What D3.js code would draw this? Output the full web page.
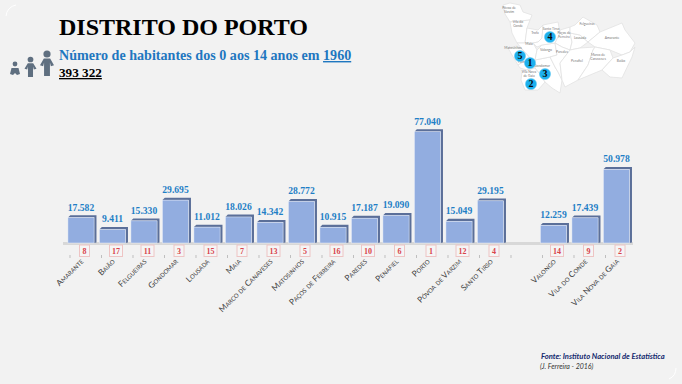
<!DOCTYPE html>
<html>
<head>
<meta charset="utf-8">
<title>Distrito do Porto 1960</title>
<script src="https://cdn.jsdelivr.net/npm/d3@7"></script>
<style>
html, body { margin: 0; padding: 0; background: #f2f2f2; overflow: hidden; }
svg { display: block; }
.serif { font-family: "Liberation Serif", serif; font-weight: bold; }
.tickLabel { font-family: Lato, sans-serif; font-variant: small-caps; font-size: 8.2px; fill: #404040; }
</style>
</head>
<body>
<div id="chart"></div>
<script>
// concelhos, blank slot keeps the gap between Santo Tirso and Valongo
var concelhos = ["Amarante","Baião","Felgueiras","Gondomar","Lousada","Maia","Marco de Canaveses","Matosinhos","Paços de Ferreira","Paredes","Penafiel","Porto","Póvoa de Varzim","Santo Tirso","","Valongo","Vila do Conde","Vila Nova de Gaia"]
var habitantes = [17582,9411,15330,29695,11012,18026,14342,28772,10915,17187,19090,77040,15049,29195,null,12259,17439,50978]
var ranking = [8,17,11,3,15,7,13,5,16,10,6,1,12,4,null,14,9,2]

// map outline of the district. | breaks a map label
var mapNames = ["Póvoa de|Varzim","Vila do|Conde","Trofa","Maia","Matosinhos","Porto","Vila Nova|de Gaia","Gondomar","Valongo","Santo Tirso","Paços de|Ferreira","Paredes","Lousada","Felgueiras","Penafiel","Amarante","Marco de|Canaveses","Baião"]
var mapShapes = [
	[[503,5],[510,3],[520,5],[523,12],[532,15],[530,20],[510,22],[505,14]],
	[[510,22],[530,20],[527,28],[525,43],[517,43],[512,33]],
	[[527,28],[538,30],[543,25],[542,38],[538,42],[533,43],[525,43]],
	[[517,43],[533,43],[537,50],[535,60],[530,58],[523,50]],
	[[508,48],[517,46],[523,50],[530,58],[518,65],[512,55]],
	[[518,65],[530,58],[535,60],[535,65],[527,70],[520,68]],
	[[522,72],[527,70],[535,68],[540,74],[545,82],[538,90],[525,90],[521,80]],
	[[535,60],[550,57],[555,67],[558,72],[562,80],[560,93],[552,88],[545,82],[540,74],[535,68]],
	[[537,50],[542,45],[555,43],[557,55],[550,57],[535,60]],
	[[543,25],[558,22],[560,33],[555,43],[542,45],[537,47],[533,43],[538,42],[542,38]],
	[[560,30],[570,27],[570,33],[572,42],[570,50],[562,47],[555,43],[560,33]],
	[[555,43],[562,47],[570,50],[560,63],[562,80],[558,72],[555,67],[550,57],[557,55]],
	[[570,33],[580,35],[588,42],[580,48],[570,50],[572,42]],
	[[575,25],[583,17],[597,25],[600,32],[588,42],[580,35],[570,33],[570,27]],
	[[570,50],[580,48],[595,47],[593,50],[588,65],[578,80],[565,87],[562,80],[560,63]],
	[[588,42],[600,32],[622,23],[625,30],[635,43],[630,52],[622,55],[610,50],[595,47]],
	[[593,50],[595,47],[610,50],[613,58],[602,70],[578,80],[588,65]],
	[[602,70],[613,58],[622,55],[630,52],[635,47],[632,57],[622,78],[610,77]]
]
var mapLabels = [[509,9],[518,23],[535,34],[529,45],[513,49],[522,63],[529,73],[542,67],[546,51],[551,30],[564,34],[562,53],[580,39],[587,25],[577,62],[612,39],[598,56],[621,62]]
var badges = [1,2,3,4,5]
var badgeAt = [[530,63],[531,84],[545,74],[550,37],[520,56]]

var WIDTH = 682,
	HEIGHT = 384,
	baseline = 243,
	top77 = 131.7,
	depth = 2.4

var svg = d3.select("#chart")
	.append("svg")
	.attr("width", WIDTH)
	.attr("height", HEIGHT)

svg.append("rect")
	.attr("width", WIDTH)
	.attr("height", HEIGHT)
	.attr("fill", "#f2f2f2")

// faint slide frame, only the corners show
svg.append("path")
	.attr("d", "M6,16 A12,12 0 0 1 16,5")
	.attr("fill", "none")
	.attr("stroke", "#ffffff")
svg.append("path")
	.attr("d", "M676,368 A12,12 0 0 1 669,379")
	.attr("fill", "none")
	.attr("stroke", "#ffffff")

var x = d3.scaleBand()
	.domain(concelhos)
	.range([65.25, 632.25])
	.paddingInner(.17)
	.paddingOuter(.085)

var y = d3.scaleLinear()
	.domain([0, d3.max(habitantes)])
	.range([baseline, top77])

// heading
svg.append("text")
	.attr("class", "serif")
	.attr("x", 59)
	.attr("y", 35)
	.attr("font-size", 24)
	.attr("fill", "#000000")
	.text("DISTRITO DO PORTO")

var sub = svg.append("text")
	.attr("class", "serif")
	.attr("x", 59)
	.attr("y", 60)
	.attr("font-size", 14.1)
	.attr("fill", "#1f77c0")
sub.append("tspan").text("Número de habitantes dos 0 aos 14 anos em ")
sub.append("tspan").attr("text-decoration", "underline").text("1960")

svg.append("text")
	.attr("class", "serif")
	.attr("x", 59)
	.attr("y", 77)
	.attr("font-size", 13.2)
	.attr("fill", "#000000")
	.attr("text-decoration", "underline")
	.text("393 322")

// people icons
function person(cx, headY, h, w){
	var g = svg.append("g").attr("fill", "#5f6f80").attr("stroke", "none")
	var r = h * .15
	g.append("circle").attr("cx", cx).attr("cy", headY).attr("r", r)
	var t = headY + r + 1
	g.append("path")
		.attr("d", d3.line()([[cx - w, t + h * .28], [cx - w * .45, t], [cx + w * .45, t], [cx + w, t + h * .28], [cx + w * .55, t + h * .32], [cx + w * .42, t + h * .16], [cx + w * .42, t + h * .72], [cx + .5, t + h * .72], [cx - .5, t + h * .72], [cx - w * .42, t + h * .72], [cx - w * .42, t + h * .16], [cx - w * .55, t + h * .32]]) + "Z")
	return g
}
person(47, 54, 24, 7)
person(30.5, 59.5, 19, 6)
var baby = svg.append("g").attr("fill", "#5f6f80")
baby.append("circle").attr("cx", 15).attr("cy", 64).attr("r", 2.4)
baby.append("path").attr("d", "M11.5,68 L18.5,68 L19.5,72 L20,74 L17,75 L15,73 L13,75 L10,74 L10.5,72 Z")

// map
var map = svg.append("g")
map.selectAll("path")
	.data(mapShapes)
	.enter()
	.append("path")
	.attr("d", function(d){ return d3.line().curve(d3.curveLinearClosed)(d) })
	.attr("fill", "#ffffff")
	.attr("stroke", "#e2e2e2")
	.attr("stroke-width", .8)
	.attr("stroke-linejoin", "round")
var mapText = map.selectAll("text")
	.data(mapNames)
	.enter()
	.append("text")
	.attr("y", function(d, i){ return mapLabels[i][1] })
	.attr("text-anchor", "middle")
	.attr("font-family", "Lato, sans-serif")
	.attr("font-size", 3.4)
	.attr("fill", "#777777")
mapText.each(function(d, i){
	var t = d3.select(this)
	d.split("|").forEach(function(part, k){
		t.append("tspan")
			.attr("x", mapLabels[i][0])
			.attr("dy", k == 0 ? 0 : 3.8)
			.text(part)
	})
})

var badge = svg.selectAll(".badge")
	.data(badges)
	.enter()
	.append("g")
	.attr("class", "badge")
	.attr("transform", function(d, i){ return "translate(" + badgeAt[i][0] + "," + badgeAt[i][1] + ")" })
badge.append("circle")
	.attr("r", 5.6)
	.attr("fill", "#1cb0ee")
	.attr("stroke", "#6fcdf2")
	.attr("stroke-width", .5)
badge.append("text")
	.attr("class", "serif")
	.attr("text-anchor", "middle")
	.attr("y", 3.3)
	.attr("font-size", 10)
	.attr("fill", "#0a0a0a")
	.text(function(d){ return d })

// floor under the bars
svg.append("rect")
	.attr("x", 63)
	.attr("y", baseline - 1)
	.attr("width", 570)
	.attr("height", 3)
	.attr("fill", "#d8d8d8")

// axis: ticks sit left of the bars, labels are turned 45 degrees
var axis = svg.append("g")
	.attr("transform", "translate(0,255)")
	.call(d3.axisBottom(x).tickSize(3).tickPadding(0))
axis.select(".domain").remove()
axis.selectAll(".tick line")
	.attr("x1", -11)
	.attr("x2", -11)
	.attr("stroke", "#bfbfbf")
axis.selectAll(".tick text")
	.attr("class", "tickLabel")
	.attr("text-anchor", "end")
	.attr("dy", 0)
	.attr("y", 0)
	.attr("transform", "translate(3,7) rotate(-45)")

var data = concelhos.map(function(c, i){
	return {name: c, value: habitantes[i], rank: ranking[i]}
}).filter(function(d){ return d.value != null })

var bar = svg.selectAll(".bar")
	.data(data)
	.enter()
	.append("g")
	.attr("class", "bar")

// dark top and side faces
bar.append("path")
	.attr("d", function(d){
		var l = x(d.name), r = l + x.bandwidth(), t = y(d.value)
		return d3.line()([[l, t], [l + depth, t - depth], [r + depth, t - depth], [r + depth, baseline - .5], [r, baseline], [r, t]]) + "Z"
	})
	.attr("fill", "#5b6f99")

bar.append("rect")
	.attr("x", function(d){ return x(d.name) })
	.attr("y", function(d){ return y(d.value) })
	.attr("width", x.bandwidth())
	.attr("height", function(d){ return baseline - y(d.value) })
	.attr("fill", "#92ade0")
	.attr("stroke", "#e9eef8")
	.attr("stroke-width", .5)

bar.append("text")
	.attr("class", "serif")
	.attr("x", function(d){ return x(d.name) + x.bandwidth() / 2 })
	.attr("y", function(d){ return y(d.value) - 7 })
	.attr("text-anchor", "middle")
	.attr("font-size", 9.6)
	.attr("fill", "#1f7fc6")
	.text(function(d){ return d3.format(",")(d.value).replace(",", ".") })

// rank boxes
bar.append("rect")
	.attr("x", function(d){
		var w = d.rank > 9 ? 13 : 10
		return x(d.name) + x.bandwidth() / 2 + 3.5 - w / 2
	})
	.attr("y", 245)
	.attr("width", function(d){ return d.rank > 9 ? 13 : 10 })
	.attr("height", 11.5)
	.attr("fill", "#f5f5f5")
	.attr("stroke", "#eec4c4")
	.attr("stroke-width", 1)
bar.append("text")
	.attr("class", "serif")
	.attr("x", function(d){ return x(d.name) + x.bandwidth() / 2 + 3.5 })
	.attr("y", 254)
	.attr("text-anchor", "middle")
	.attr("font-size", 8)
	.attr("fill", "#d9434a")
	.text(function(d){ return d.rank })

// source
svg.append("text")
	.attr("x", 541)
	.attr("y", 359)
	.attr("font-family", "Lato, sans-serif")
	.attr("font-weight", "bold")
	.attr("font-style", "italic")
	.attr("font-size", 7.6)
	.attr("fill", "#12296e")
	.text("Fonte: Instituto Nacional de Estatística")
svg.append("text")
	.attr("x", 540)
	.attr("y", 369)
	.attr("font-family", "Lato, sans-serif")
	.attr("font-style", "italic")
	.attr("font-size", 7)
	.attr("fill", "#333333")
	.text("(J. Ferreira - 2016)")
</script>
</body>
</html>
